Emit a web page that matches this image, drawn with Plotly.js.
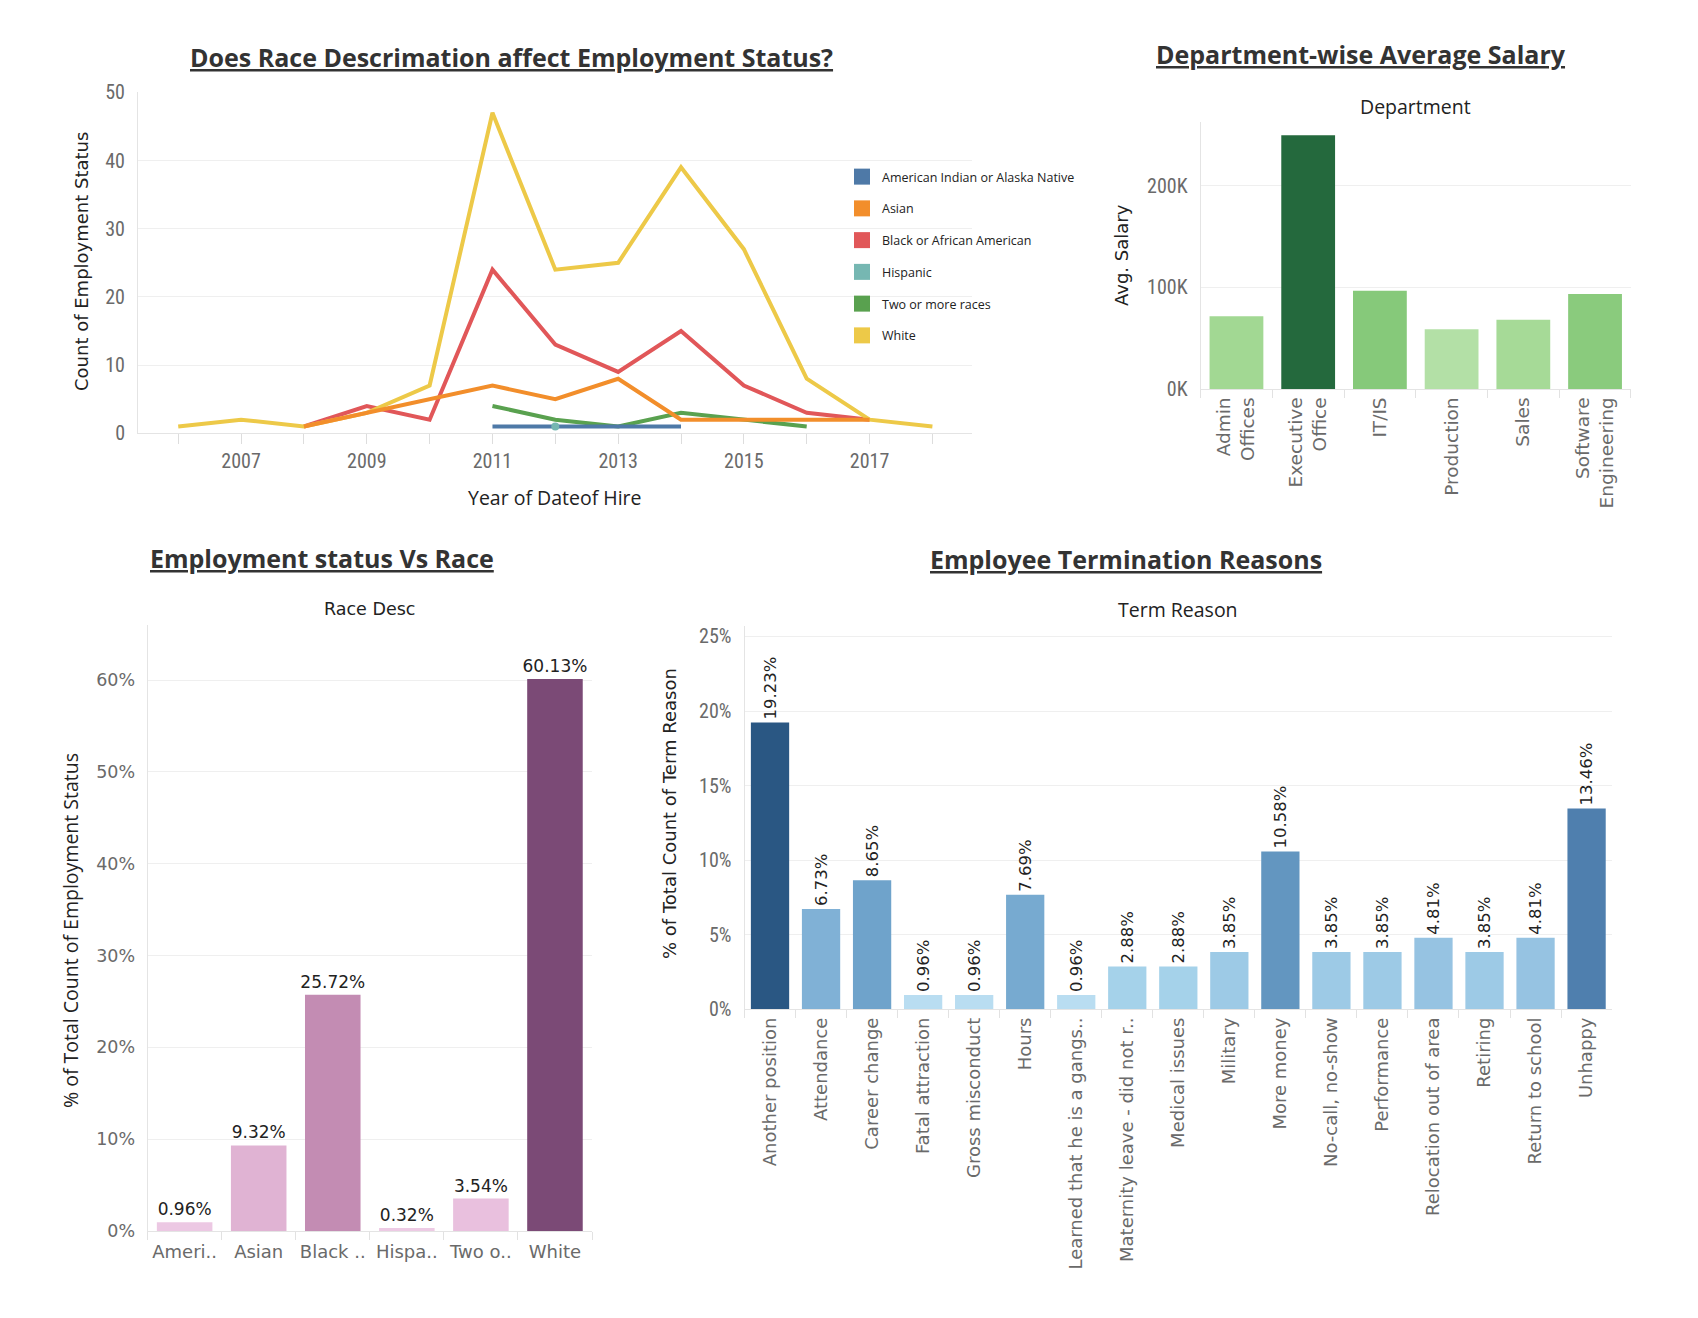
<!DOCTYPE html>
<html>
<head>
<meta charset="utf-8">
<script src="https://cdn.plot.ly/plotly-3.0.1.min.js"></script>
<style>
html,body{margin:0;padding:0;background:#ffffff;}
#chart{width:1698px;height:1318px;}
</style>
</head>
<body>
<div id="chart"></div>
<script>
// ---------------- DATA ----------------
// Chart 1: count of employment status by year of hire, per race
const raceNames = ['American Indian or Alaska Native','Asian','Black or African American','Hispanic','Two or more races','White'];
const amerYears  = [2011, 2012, 2014];
const amerCounts = [1, 1, 1];
const asianYears  = [2008, 2011, 2012, 2013, 2014, 2015, 2016, 2017];
const asianCounts = [1, 7, 5, 8, 2, 2, 2, 2];
const blackYears  = [2008, 2009, 2010, 2011, 2012, 2013, 2014, 2015, 2016, 2017];
const blackCounts = [1, 4, 2, 24, 13, 9, 15, 7, 3, 2];
const hispYears  = [2012];
const hispCounts = [1];
const twoYears  = [2011, 2012, 2013, 2014, 2016];
const twoCounts = [4, 2, 1, 3, 1];
const whiteYears  = [2006, 2007, 2008, 2009, 2010, 2011, 2012, 2013, 2014, 2015, 2016, 2017, 2018];
const whiteCounts = [1, 2, 1, 3, 7, 47, 24, 25, 39, 27, 8, 2, 1];

// Chart 2: department-wise average salary
const departments = ['Admin<br>Offices','Executive<br>Office','IT/IS','Production','Sales','Software<br>Engineering'];
const avgSalary = [71600, 250000, 96700, 58800, 68300, 93500];
const salaryTickVals = [0, 100000, 200000];
const salaryTickText = ['0K', '100K', '200K'];

// Chart 3: % of total count of employment status by race
const raceLabels = ['Ameri..','Asian','Black ..','Hispa..','Two o..','White'];
const racePct = [0.0096, 0.0932, 0.2572, 0.0032, 0.0354, 0.6013];

// Chart 4: termination reasons
const termReasons = ['Another position','Attendance','Career change','Fatal attraction','Gross misconduct','Hours',
  'Learned that he is a gangs..','Maternity leave - did not r..','Medical issues','Military','More money',
  'No-call, no-show','Performance','Relocation out of area','Retiring','Return to school','Unhappy'];
const termPct = [0.1923, 0.0673, 0.0865, 0.0096, 0.0096, 0.0769, 0.0096, 0.0288, 0.0288, 0.0385, 0.1058,
  0.0385, 0.0385, 0.0481, 0.0385, 0.0481, 0.1346];

// ---------------- STYLE / LAYOUT ----------------
const W = 1698, H = 1318;
const px = v => v / W;
const py = v => 1 - v / H;

const NARROW = '"Liberation Sans Narrow", "Roboto Condensed", Roboto, sans-serif';
const WIDE = '"DejaVu Sans", Verdana, sans-serif';
const SANS = '"Open Sans", "Noto Sans", sans-serif';
const TITLE = '"Open Sans", "Noto Sans", sans-serif';
const GRID = '#efefef';
const LINE = '#e4e4e4';
const TICKC = '#6a6a6a';

const raceColors = ['#4e79a7', '#f28e2b', '#e15759', '#76b7b2', '#59a14f', '#edc948'];
const seriesX = [amerYears, asianYears, blackYears, hispYears, twoYears, whiteYears];
const seriesY = [amerCounts, asianCounts, blackCounts, hispCounts, twoCounts, whiteCounts];

const traces = [];
// draw order: two-or-more, american indian, hispanic, black, white, asian
[4, 0, 3, 2, 5, 1].forEach(i => {
  traces.push({
    type: 'scatter', mode: seriesX[i].length === 1 ? 'markers' : 'lines',
    name: raceNames[i], x: seriesX[i], y: seriesY[i],
    line: {color: raceColors[i], width: 4},
    marker: {color: raceColors[i], size: 8},
    xaxis: 'x', yaxis: 'y', showlegend: false, hoverinfo: 'skip'
  });
});
// legend entries (square swatches)
raceNames.forEach((n, i) => {
  traces.push({
    type: 'scatter', mode: 'markers', name: n, x: [null], y: [null],
    marker: {symbol: 'square', size: 16, color: raceColors[i]},
    xaxis: 'x', yaxis: 'y', showlegend: true, legendgroup: 'g' + i, hoverinfo: 'skip'
  });
});

traces.push({
  type: 'bar', x: departments, y: avgSalary, xaxis: 'x2', yaxis: 'y2', showlegend: false, hoverinfo: 'skip',
  marker: {color: avgSalary, cmin: Math.min(...avgSalary), cmax: Math.max(...avgSalary),
    colorscale: [[0, '#b3e0a6'], [0.06, '#a3d994'], [0.2, '#86c97a'], [0.45, '#5aa660'], [1, '#24693d']],
    showscale: false}
});

traces.push({
  type: 'bar', x: raceLabels, y: racePct, xaxis: 'x3', yaxis: 'y3', showlegend: false, hoverinfo: 'skip',
  texttemplate: '%{y:.2%}', textposition: 'outside', cliponaxis: false, constraintext: 'none',
  textfont: {family: WIDE, size: 17, color: '#222'},
  marker: {color: racePct, cmin: Math.min(...racePct), cmax: Math.max(...racePct),
    colorscale: [[0, '#edcae4'], [0.05, '#e9c1de'], [0.15, '#e0b3d3'], [0.42, '#c48db3'], [1, '#7b4a76']],
    showscale: false}
});

traces.push({
  type: 'bar', x: termReasons, y: termPct, xaxis: 'x4', yaxis: 'y4', showlegend: false, hoverinfo: 'skip',
  texttemplate: '%{y:.2%}', textposition: 'outside', textangle: -90, cliponaxis: false, constraintext: 'none',
  textfont: {family: WIDE, size: 16.5, color: '#222'},
  marker: {color: termPct, cmin: Math.min(...termPct), cmax: Math.max(...termPct),
    colorscale: [[0, '#b9ddf1'], [0.105, '#a5d2ea'], [0.21, '#96c3e2'], [0.316, '#80b1d6'],
      [0.42, '#6fa3cb'], [0.52, '#6497c1'], [0.684, '#4f7fae'], [1, '#2a5783']],
    showscale: false}
});

function ann(text, x, y, font, extra) {
  return Object.assign({text: text, x: x, y: y, xref: 'paper', yref: 'paper', showarrow: false,
    xanchor: 'center', yanchor: 'middle', font: font}, extra || {});
}
const titleFont = {family: TITLE, size: 25, color: '#333', weight: 'bold', lineposition: 'under'};

const layout = {
  width: W, height: H,
  margin: {l: 0, r: 0, t: 0, b: 0},
  paper_bgcolor: '#ffffff', plot_bgcolor: '#ffffff',
  showlegend: true,
  legend: {x: px(842), y: py(162), xanchor: 'left', yanchor: 'top', bgcolor: 'rgba(0,0,0,0)',
    font: {family: SANS, size: 12.5, color: '#222'}, tracegroupgap: 12.5, itemwidth: 30},
  bargap: 0.25,
  xaxis: {domain: [px(138), px(972)], range: [2005.36, 2018.63], anchor: 'y',
    tick0: 2007, dtick: 2, ticks: 'outside', ticklen: 10, tickcolor: '#dddddd',
    minor: {tick0: 2006, dtick: 1, ticks: 'outside', ticklen: 10, tickcolor: '#dddddd', showgrid: false},
    showgrid: false, zeroline: false, showline: true, linecolor: LINE,
    tickfont: {family: NARROW, size: 20, color: TICKC}, fixedrange: true},
  yaxis: {domain: [py(433.3), py(92.3)], range: [0, 50], anchor: 'x', dtick: 10,
    gridcolor: GRID, zeroline: false, showline: true, linecolor: LINE, ticks: '',
    ticklabelstandoff: 8, tickfont: {family: NARROW, size: 20, color: TICKC}, fixedrange: true},

  xaxis2: {domain: [px(1200.6), px(1630.9)], anchor: 'y2', type: 'category', tickangle: -90,
    tickson: 'boundaries', ticks: 'outside', ticklen: 8, tickcolor: '#e2e2e2',
    showgrid: false, zeroline: false, showline: true, linecolor: LINE,
    tickfont: {family: WIDE, size: 18.5, color: TICKC}, fixedrange: true},
  yaxis2: {domain: [py(389), py(122)], range: [0, 263000], anchor: 'x2',
    tickvals: salaryTickVals, ticktext: salaryTickText, gridcolor: GRID, zeroline: false,
    showline: true, linecolor: LINE, ticks: '', ticklabelstandoff: 8,
    tickfont: {family: NARROW, size: 20, color: TICKC}, fixedrange: true},

  xaxis3: {domain: [px(147.6), px(592)], anchor: 'y3', type: 'category', tickangle: 0,
    tickson: 'boundaries', ticks: 'outside', ticklen: 8, tickcolor: '#e2e2e2',
    showgrid: false, zeroline: false, showline: true, linecolor: LINE, ticklabelstandoff: 4,
    tickfont: {family: WIDE, size: 18, color: TICKC}, fixedrange: true},
  yaxis3: {domain: [py(1231), py(625)], range: [0, 0.66], anchor: 'x3', dtick: 0.1, tickformat: '.0%',
    gridcolor: GRID, zeroline: false, showline: true, linecolor: LINE, ticks: '', ticklabelstandoff: 8,
    tickfont: {family: WIDE, size: 17.5, color: TICKC}, fixedrange: true},

  xaxis4: {domain: [px(744.5), px(1612.1)], anchor: 'y4', type: 'category', tickangle: -90,
    tickson: 'boundaries', ticks: 'outside', ticklen: 8, tickcolor: '#e2e2e2',
    showgrid: false, zeroline: false, showline: true, linecolor: LINE,
    tickfont: {family: WIDE, size: 18, color: TICKC}, fixedrange: true},
  yaxis4: {domain: [py(1009.4), py(626)], range: [0, 0.257], anchor: 'x4', dtick: 0.05, tickformat: '.0%',
    gridcolor: GRID, zeroline: false, showline: true, linecolor: LINE, ticks: '', ticklabelstandoff: 8,
    tickfont: {family: NARROW, size: 20, color: TICKC}, fixedrange: true},

  annotations: [
    ann('Does Race Descrimation affect Employment Status?', px(512), py(57), titleFont),
    ann('Department-wise Average Salary', px(1361), py(54), titleFont),
    ann('Employment status Vs Race', px(322), py(558), titleFont),
    ann('Employee Termination Reasons', px(1126), py(559), titleFont),

    ann('Department', px(1415), py(106), {family: SANS, size: 19.5, color: '#222'}),
    ann('Race Desc', px(369), py(609), {family: WIDE, size: 17.5, color: '#222'}),
    ann('Term Reason', px(1178), py(609), {family: SANS, size: 19.5, color: '#222'}),

    ann('Year of Dateof Hire', px(555), py(497), {family: SANS, size: 19.5, color: '#222'}),
    ann('Count of Employment Status', px(81), py(262), {family: WIDE, size: 18, color: '#222'}, {textangle: -90}),
    ann('Avg. Salary', px(1121), py(255), {family: WIDE, size: 18, color: '#222'}, {textangle: -90}),
    ann('% of Total Count of Employment Status', px(70), py(931), {family: SANS, size: 19.5, color: '#222'}, {textangle: -90}),
    ann('% of Total Count of Term Reason', px(669), py(814), {family: WIDE, size: 18, color: '#222'}, {textangle: -90})
  ]
};

Plotly.newPlot('chart', traces, layout, {displayModeBar: false, staticPlot: true});
</script>
</body>
</html>
